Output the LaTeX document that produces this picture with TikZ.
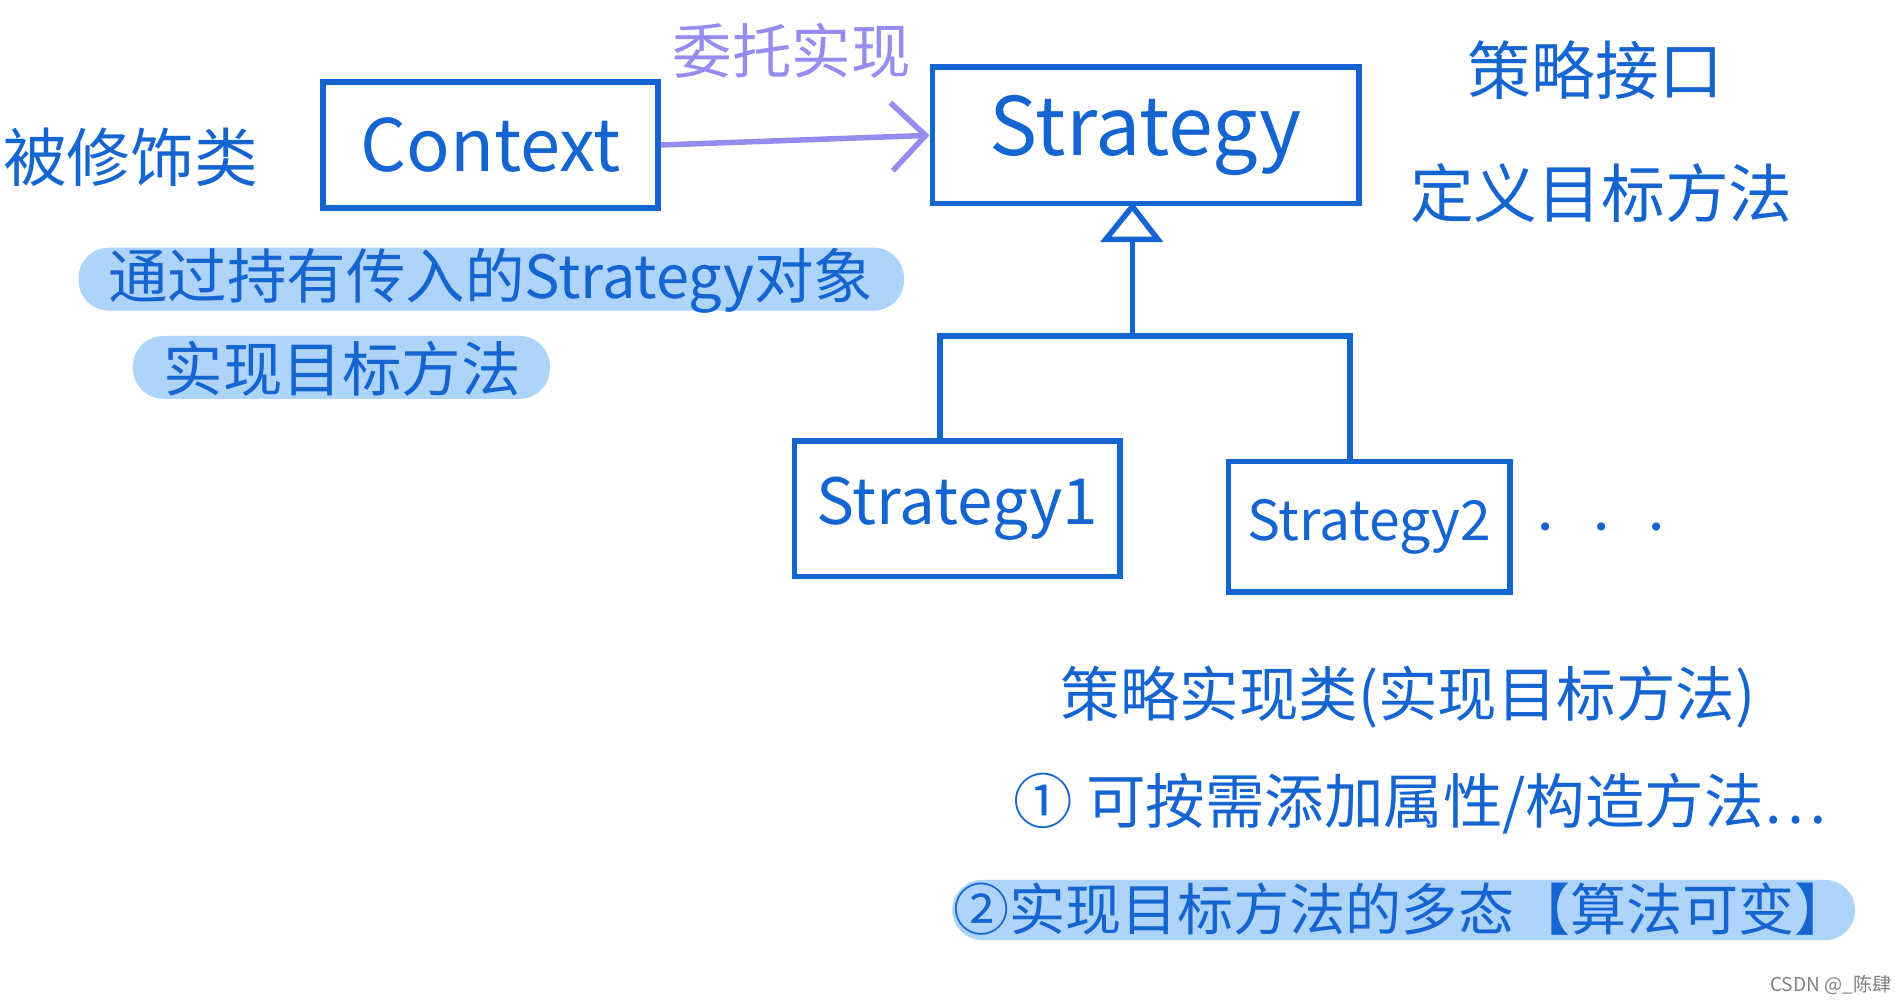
\documentclass[tikz,border=0pt]{standalone}
\usepackage{fontspec}
\usetikzlibrary{arrows.meta}
\setmainfont{Noto Sans CJK SC}
\begin{document}
\begin{tikzpicture}[x=0.01cm,y=-0.01cm]
\definecolor{ink}{RGB}{20,100,210}
\definecolor{pur}{RGB}{150,140,240}
\definecolor{hl}{RGB}{175,212,250}
\tikzset{box/.style={draw=ink,line width=1.3pt,inner sep=0pt},
 txt/.style={text=ink,inner sep=0pt},
 pill/.style={fill=hl,rounded corners=0.25cm,inner sep=0pt}}
\useasboundingbox (0,0) rectangle (1568,828);
\fill[pill] (65,205) rectangle (748,257);
\fill[pill] (110,278) rectangle (455,330);
\fill[pill] (788,728) rectangle (1535,778);
\node[box,minimum width=2.77cm,minimum height=1.04cm] (ctx) at (406,120) {};
\node[txt,font=\fontsize{17}{20}\selectfont] at (ctx) {Context};
\node[box,minimum width=3.53cm,minimum height=1.13cm] (st) at (948,112) {};
\node[txt,font=\fontsize{19}{22}\selectfont] at (st) {Strategy};
\node[box,minimum width=2.69cm,minimum height=1.12cm] (s1) at (792,421) {};
\node[txt,font=\fontsize{15}{18}\selectfont] at (s1) {Strategy1};
\node[box,minimum width=2.33cm,minimum height=1.08cm] (s2) at (1133,436) {};
\node[txt,font=\fontsize{13}{18}\selectfont] at (s2) {Strategy2};
\node[txt,font=\fontsize{9}{12}\selectfont] (dots) at (1325,440) {·\ \ ·\ \ ·};
\draw[pur,line width=1.3pt,-{Straight Barb[length=8pt]}] (ctx.east) -- (st.west);
\node[text=pur,inner sep=0pt,font=\fontsize{14}{18}\selectfont] (wt) at (655,42) {委托实现};
\node[txt,font=\fontsize{15}{18}\selectfont] (bx) at (108,130) {被修饰类};
\node[txt,font=\fontsize{15}{18}\selectfont] (jk) at (1320,58) {策略接口};
\node[txt,font=\fontsize{15}{18}\selectfont] (dy) at (1325,160) {定义目标方法};
\node[txt,font=\fontsize{14}{18}\selectfont] (p1) at (406,232) {通过持有传入的Strategy对象};
\node[txt,font=\fontsize{14}{18}\selectfont] (p2) at (283,305) {实现目标方法};
\coordinate (tb) at (937,198);
\draw[ink,line width=1.3pt] (st.south -| tb) -- (915,198) -- (958,198) -- cycle;
\coordinate (j) at (937,278);
\draw[ink,line width=1.3pt] (tb) -- (j);
\draw[ink,line width=1.3pt] (s1.north -| 778,0) |- (j) -| (s2.north -| 1117,0);
\node[txt,font=\fontsize{14}{18}\selectfont] (l1) at (1165,577) {策略实现类(实现目标方法)};
\node[txt,font=\fontsize{14}{18}\selectfont] (l2) at (1175,665) {① 可按需添加属性/构造方法…};
\node[txt,font=\fontsize{13.2}{18}\selectfont] (l3) at (1160,752) {②实现目标方法的多态【算法可变】};
\node[text=gray,inner sep=0pt,font=\fontsize{4.5}{6}\selectfont] (wm) at (1515,815) {CSDN @\_陈肆};
\end{tikzpicture}
\end{document}
